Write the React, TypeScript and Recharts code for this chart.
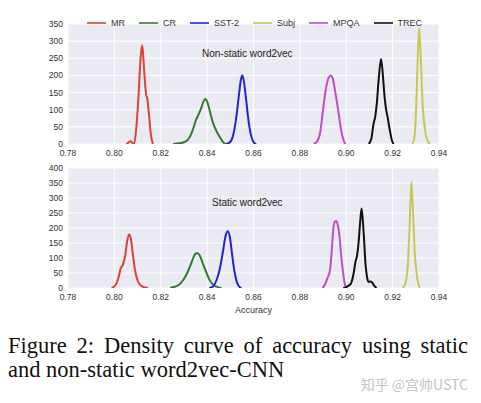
import React from 'react';
import { LineChart, Line, XAxis, YAxis, CartesianGrid, Legend, Label } from 'recharts';

// ---- tick labels ----
const xTicks = [0.78, 0.8, 0.82, 0.84, 0.86, 0.88, 0.9, 0.92, 0.94];
const yTicksTop = [0, 50, 100, 150, 200, 250, 300, 350];
const yTicksBottom = [0, 50, 100, 150, 200, 250, 300, 350, 400];

// ---- series names / colours ----
const seriesNames = ['MR', 'CR', 'SST-2', 'Subj', 'MPQA', 'TREC'];
const seriesColors = ['#dc4238', '#357a32', '#2424d6', '#c9c658', '#c24cc6', '#111111'];

// ---- Non-static word2vec (accuracy, density) ----
const mrNonStatic: [number, number][] = [
  [0.8052, 0], [0.8062, 5], [0.807, 8], [0.8078, 3], [0.8085, 0], [0.8095, 50], [0.8105, 150],
  [0.8113, 250], [0.812, 289], [0.8126, 240], [0.8132, 180], [0.8137, 145], [0.8142, 132],
  [0.815, 80], [0.8158, 25], [0.8166, 0],
];
const crNonStatic: [number, number][] = [
  [0.8254, 0], [0.828, 2], [0.8305, 6], [0.8325, 20], [0.834, 45], [0.8352, 70], [0.8362, 85],
  [0.8372, 100], [0.8382, 120], [0.8393, 131], [0.8402, 120], [0.8414, 90], [0.8426, 60],
  [0.844, 38], [0.8455, 20], [0.8467, 7], [0.8478, 0],
];
const sstNonStatic: [number, number][] = [
  [0.848, 0], [0.8495, 3], [0.851, 20], [0.8522, 60], [0.8535, 130], [0.8545, 185], [0.8551, 200],
  [0.8558, 185], [0.8568, 130], [0.858, 60], [0.8592, 18], [0.8603, 3], [0.8612, 0],
];
const subjNonStatic: [number, number][] = [
  [0.9285, 0], [0.9293, 15], [0.93, 80], [0.9307, 220], [0.9314, 338], [0.9322, 240],
  [0.933, 110], [0.934, 40], [0.935, 10], [0.936, 0],
];
const mpqaNonStatic: [number, number][] = [
  [0.886, 0], [0.8875, 8], [0.8888, 35], [0.89, 100], [0.8912, 160], [0.8925, 195], [0.8933, 200],
  [0.8942, 190], [0.8953, 150], [0.8965, 100], [0.8978, 40], [0.8988, 12], [0.8996, 0],
];
const trecNonStatic: [number, number][] = [
  [0.9097, 0], [0.9108, 15], [0.9118, 60], [0.9125, 80], [0.9132, 120], [0.914, 190], [0.915, 248],
  [0.9158, 200], [0.9165, 140], [0.9172, 100], [0.9178, 80], [0.9188, 40], [0.9198, 8], [0.9205, 0],
];

// ---- Static word2vec (accuracy, density) ----
const mrStatic: [number, number][] = [
  [0.7988, 0], [0.8005, 10], [0.8018, 35], [0.8027, 65], [0.8037, 78], [0.8047, 110], [0.8056, 160],
  [0.8064, 179], [0.8072, 160], [0.808, 110], [0.8089, 60], [0.81, 25], [0.8115, 8], [0.813, 2],
  [0.8146, 0],
];
const crStatic: [number, number][] = [
  [0.824, 0], [0.826, 4], [0.828, 12], [0.83, 30], [0.832, 60], [0.8335, 90], [0.8348, 113],
  [0.8357, 117], [0.8367, 110], [0.838, 85], [0.8395, 55], [0.841, 28], [0.8425, 12], [0.8445, 3],
  [0.8462, 0],
];
const sstStatic: [number, number][] = [
  [0.8409, 0], [0.8425, 5], [0.844, 25], [0.8455, 65], [0.8468, 120], [0.848, 175], [0.8489, 189],
  [0.8498, 170], [0.8508, 110], [0.8518, 55], [0.8528, 20], [0.8538, 5], [0.8548, 0],
];
const subjStatic: [number, number][] = [
  [0.9243, 0], [0.9255, 15], [0.9265, 70], [0.9273, 200], [0.9281, 353], [0.9288, 250],
  [0.9296, 110], [0.9305, 40], [0.9312, 10], [0.9318, 0],
];
const mpqaStatic: [number, number][] = [
  [0.8898, 0], [0.891, 15], [0.892, 35], [0.893, 60], [0.8937, 120], [0.8944, 195], [0.895, 220],
  [0.8957, 223], [0.8963, 212], [0.897, 180], [0.8977, 117], [0.8985, 60], [0.8992, 20], [0.8999, 0],
];
const trecStatic: [number, number][] = [
  [0.8987, 0], [0.9, 3], [0.901, 8], [0.9018, 12], [0.9025, 25], [0.9032, 50], [0.904, 88],
  [0.9047, 110], [0.9053, 150], [0.906, 220], [0.9066, 265], [0.9072, 220], [0.9077, 160],
  [0.9083, 80], [0.909, 35], [0.9097, 20], [0.9105, 22], [0.9112, 18], [0.9122, 6], [0.9131, 0],
];

const nonStaticSeries = [mrNonStatic, crNonStatic, sstNonStatic, subjNonStatic, mpqaNonStatic, trecNonStatic];
const staticSeries = [mrStatic, crStatic, sstStatic, subjStatic, mpqaStatic, trecStatic];

const toRows = (pts: [number, number][]) => pts.map(([x, y]) => ({ x, y }));

const SANS = '"Liberation Sans", Arial, Helvetica, sans-serif';
const tickStyle = { fontSize: 8.5, fill: '#333', fontFamily: SANS };

const renderLegend = (props: any) => {
  const payload = [...(props.payload || [])].sort(
    (a: any, b: any) => seriesNames.indexOf(a.value) - seriesNames.indexOf(b.value)
  );
  return (
    <div style={{ display: 'flex', alignItems: 'center', fontFamily: SANS, fontSize: 9, color: '#333' }}>
      {payload.map((p: any) => (
        <div key={p.value} style={{ display: 'flex', alignItems: 'center', marginRight: 14 }}>
          <svg width={19} height={4} style={{ display: 'block' }}>
            <line x1={0} y1={2} x2={19} y2={2} stroke={p.color} strokeWidth={1.6} />
          </svg>
          <span style={{ marginLeft: 5, lineHeight: '10px' }}>{p.value}</span>
        </div>
      ))}
    </div>
  );
};

const fmtX = (v: number) => v.toFixed(2);

function Panel({ series, yTicks, yMax, height, marginTop, withLegend, xLabel }: any) {
  return (
    <LineChart
      width={481}
      height={height}
      margin={{ top: marginTop, right: 42, bottom: 0, left: 0 }}
    >
      <CartesianGrid fill="#EAEAF2" stroke="#ffffff" strokeWidth={1} />
      <XAxis
        type="number"
        dataKey="x"
        domain={[0.78, 0.94]}
        ticks={xTicks}
        interval={0}
        tickFormatter={fmtX}
        axisLine={false}
        tickLine={false}
        tickSize={0}
        tickMargin={6}
        tick={tickStyle}
        height={xLabel ? 30 : 20}
        allowDataOverflow
      >
        {xLabel ? (
          <Label value={xLabel} position="insideBottom" offset={5} style={{ fontSize: 9, fill: '#333', fontFamily: SANS }} />
        ) : null}
      </XAxis>
      <YAxis
        type="number"
        domain={[0, yMax]}
        ticks={yTicks}
        interval={0}
        axisLine={false}
        tickLine={false}
        tickSize={0}
        tickMargin={5}
        tick={tickStyle}
        width={68}
        allowDataOverflow
      />
      {withLegend ? (
        <Legend
          verticalAlign="middle"
          align="center"
          layout="horizontal"
          itemSorter={null as any}
          content={renderLegend}
          wrapperStyle={{ top: 18, left: 87, width: 380, height: 10 }}
        />
      ) : null}
      {series.map((pts: [number, number][], i: number) => (
        <Line
          key={seriesNames[i]}
          name={seriesNames[i]}
          data={toRows(pts)}
          dataKey="y"
          type="monotone"
          stroke={seriesColors[i]}
          strokeWidth={2}
          dot={false}
          activeDot={false}
          legendType="plainline"
          isAnimationActive={false}
        />
      ))}
    </LineChart>
  );
}

const serif = '"Liberation Serif", "Times New Roman", serif';

export default function App() {
  return (
    <div style={{ position: 'absolute', left: 0, top: 0, width: 481, height: 403, background: '#fff', overflow: 'hidden' }}>
      <div style={{ position: 'absolute', left: 0, top: 0 }}>
        <Panel series={nonStaticSeries} yTicks={yTicksTop} yMax={350} height={164} marginTop={24} withLegend />
      </div>
      <div style={{ position: 'absolute', left: 0, top: 164 }}>
        <Panel series={staticSeries} yTicks={yTicksBottom} yMax={400} height={154} marginTop={4} xLabel="Accuracy" />
      </div>
      <div style={{ position: 'absolute', left: 202, top: 48, fontFamily: SANS, fontSize: 10, lineHeight: '12px', color: '#222', whiteSpace: 'nowrap' }}>
        Non-static word2vec
      </div>
      <div style={{ position: 'absolute', left: 212, top: 197, fontFamily: SANS, fontSize: 10, lineHeight: '12px', color: '#222', whiteSpace: 'nowrap' }}>
        Static word2vec
      </div>
      <div
        style={{
          position: 'absolute',
          left: 8,
          top: 334,
          width: 460,
          fontFamily: serif,
          fontSize: 22.5,
          lineHeight: '24px',
          textAlign: 'justify',
          textAlignLast: 'justify',
          whiteSpace: 'nowrap',
          color: '#111',
        }}
      >
        Figure 2: Density curve of accuracy using static
      </div>
      <div
        style={{
          position: 'absolute',
          left: 8,
          top: 358,
          fontFamily: serif,
          fontSize: 22.5,
          lineHeight: '24px',
          whiteSpace: 'nowrap',
          color: '#111',
        }}
      >
        and non-static word2vec-CNN
      </div>
      <div
        style={{
          position: 'absolute',
          left: 356,
          top: 376,
          width: 112,
          textAlign: 'right',
          fontFamily: '"Noto Sans CJK SC", sans-serif',
          fontSize: 14,
          lineHeight: '16px',
          color: '#c4c4c4',
          whiteSpace: 'nowrap',
        }}
      >
        知乎 @宫帅USTC
      </div>
    </div>
  );
}
